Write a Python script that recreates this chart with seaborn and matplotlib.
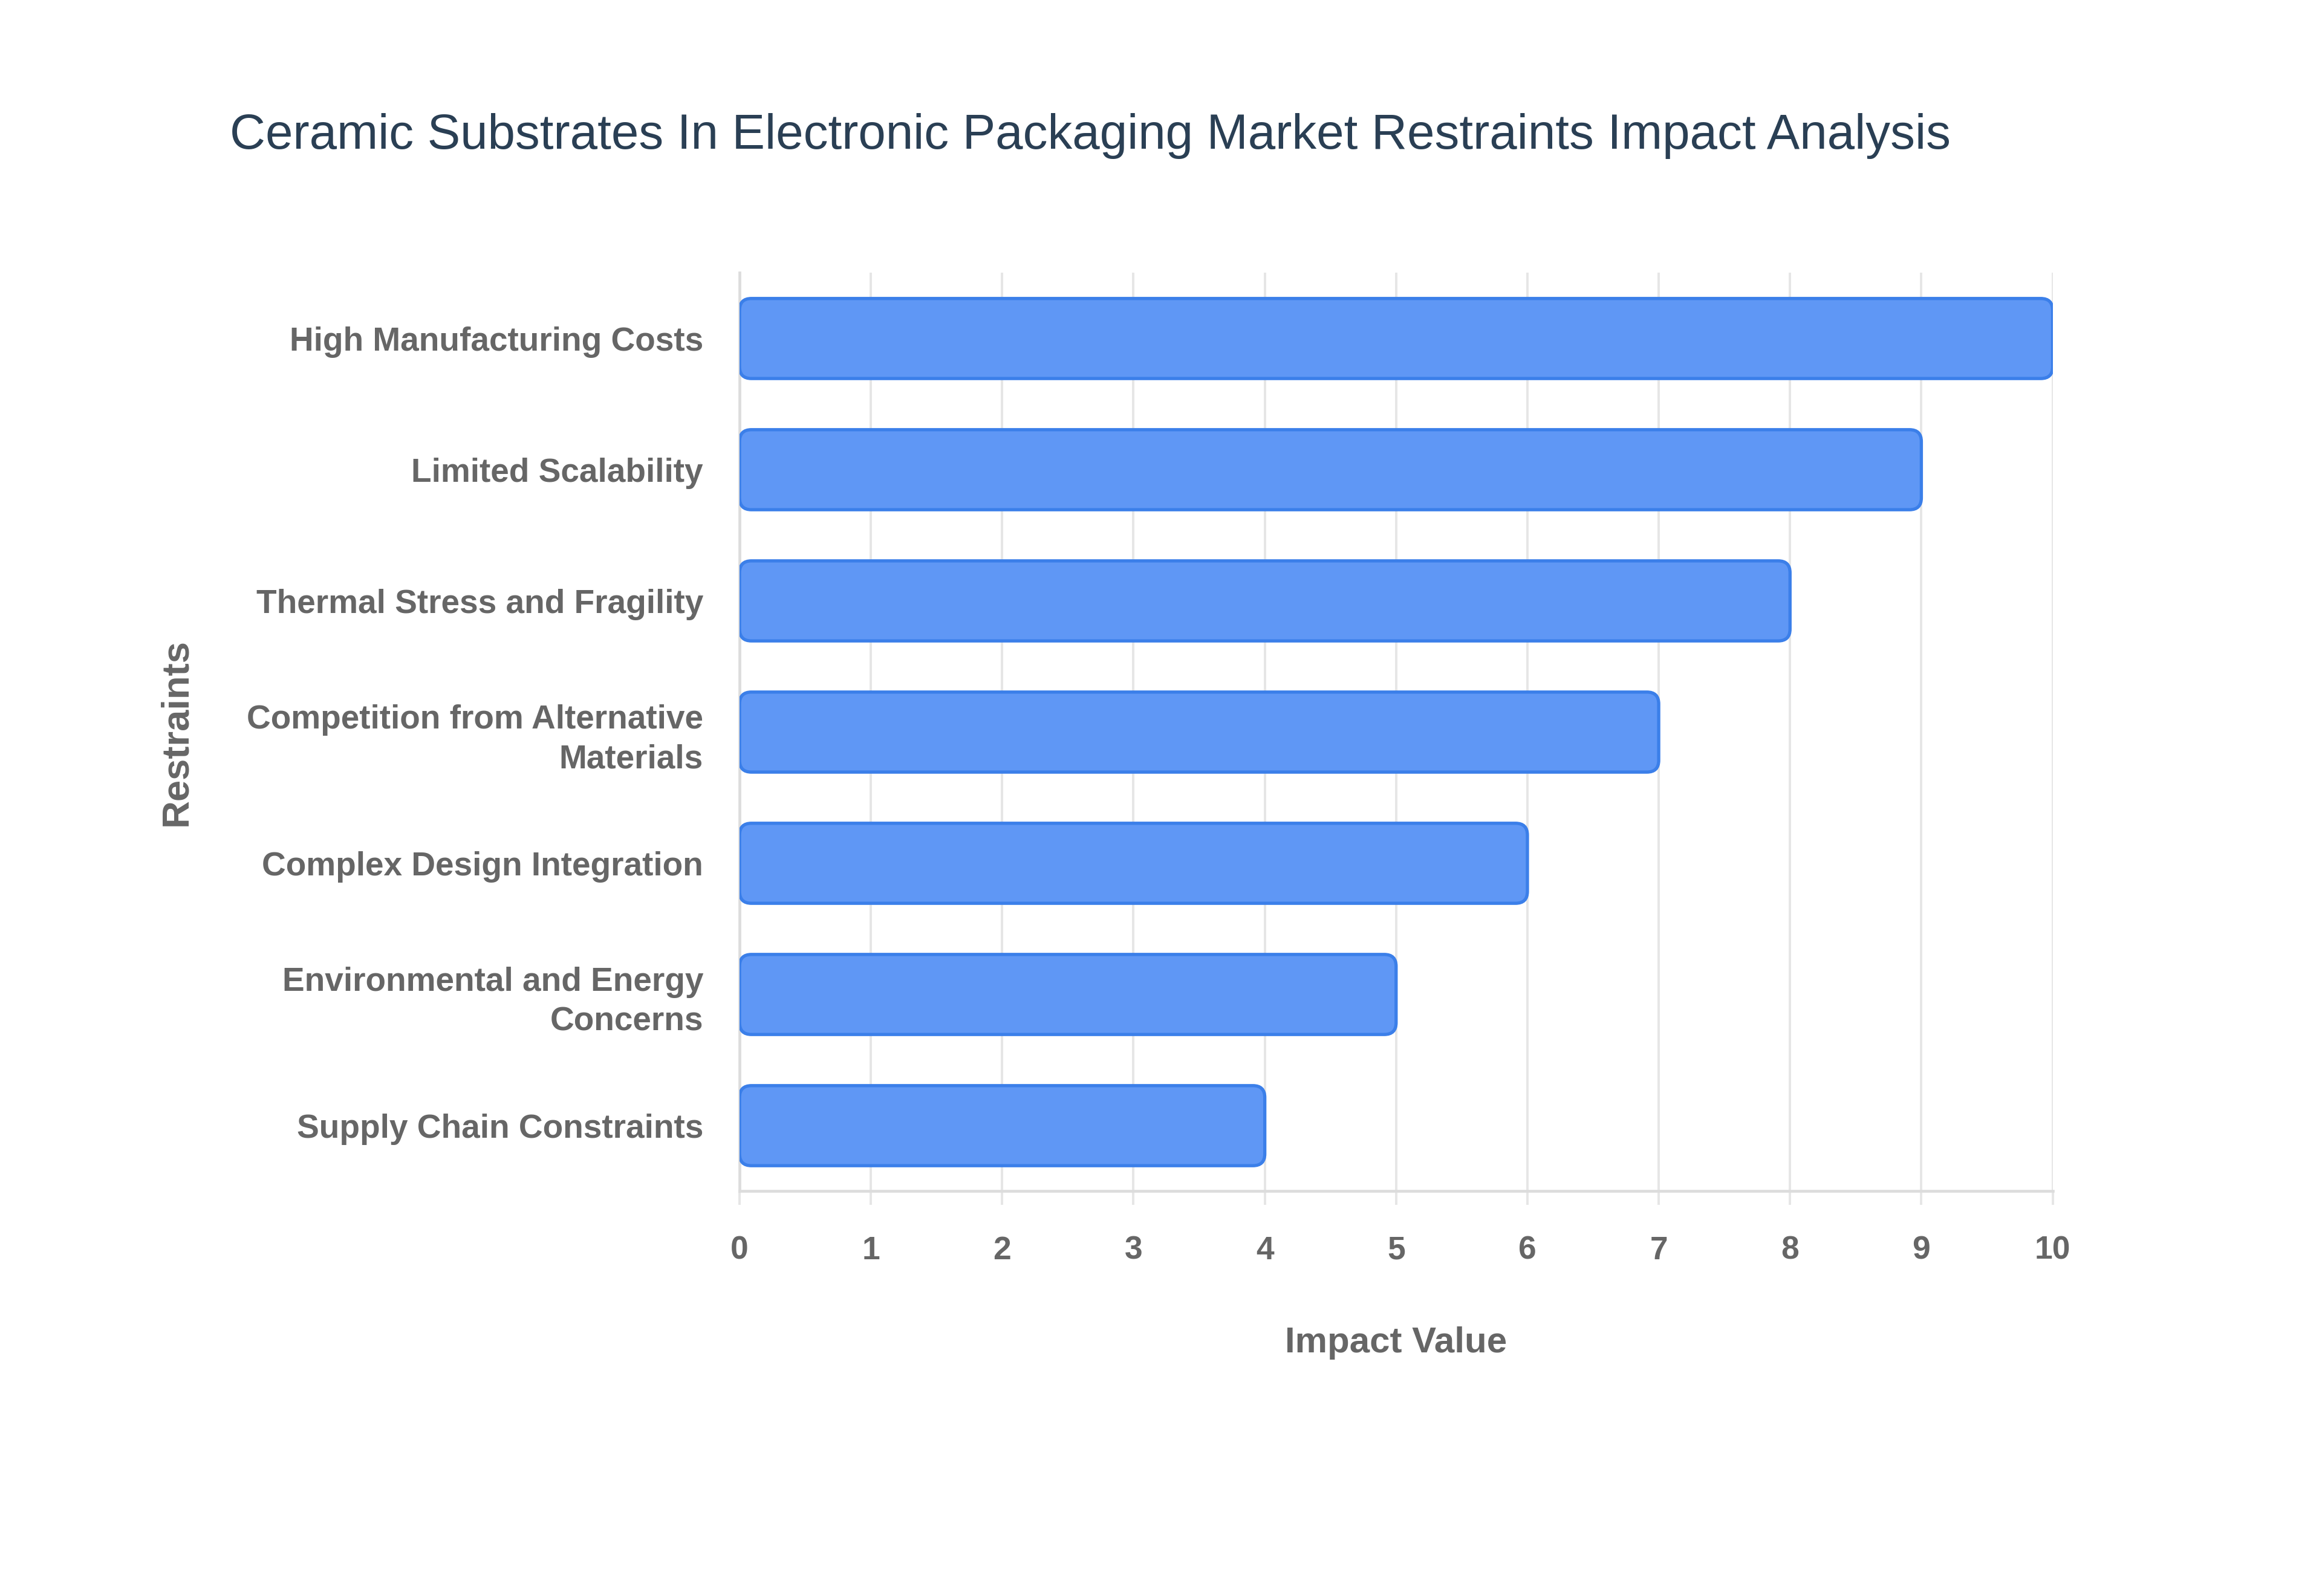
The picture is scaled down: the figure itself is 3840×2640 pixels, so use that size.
import matplotlib
matplotlib.use("Agg")
import matplotlib.pyplot as plt
import seaborn as sns
import pandas as pd
from matplotlib.patches import FancyBboxPatch

restraints = [
    "High Manufacturing Costs",
    "Limited Scalability",
    "Thermal Stress and Fragility",
    "Competition from Alternative\nMaterials",
    "Complex Design Integration",
    "Environmental and Energy\nConcerns",
    "Supply Chain Constraints",
]
impact = [10, 9, 8, 7, 6, 5, 4]
x_ticks = [0, 1, 2, 3, 4, 5, 6, 7, 8, 9, 10]

df = pd.DataFrame({"Restraints": restraints, "Impact Value": impact})

sns.set_theme(style="white")
plt.rcParams["font.family"] = ["Liberation Sans", "DejaVu Sans"]

fig = plt.figure(figsize=(16, 11), dpi=240)
ax = fig.add_axes([0.3185, 0.2536, 0.5655, 0.5754])

sns.barplot(data=df, x="Impact Value", y="Restraints", orient="h",
            color="#5f97f5", width=0.61, ax=ax, zorder=3)

# swap plain bars for slightly rounded ones
for p in list(ax.patches):
    x0, y0 = p.get_x(), p.get_y()
    w, h = p.get_width(), p.get_height()
    rb = FancyBboxPatch((x0, y0), w, h,
                        boxstyle="round,pad=0,rounding_size=0.09",
                        facecolor="#5f97f5", edgecolor="#3b7fe9",
                        linewidth=1.6, zorder=3)
    p.remove()
    ax.add_patch(rb)

ax.set_xlim(0, 10)
ax.set_ylim(len(restraints) - 0.5, -0.5)
ax.set_xticks(x_ticks)
ax.grid(axis="x", color="#e6e6e6", linewidth=1.2, zorder=0)
ax.grid(axis="y", visible=False)

for s in ["top", "right"]:
    ax.spines[s].set_visible(False)
for s in ["left", "bottom"]:
    ax.spines[s].set_color("#dcdcdc")
    ax.spines[s].set_linewidth(1.4)

ax.tick_params(axis="x", length=7, width=1.2, color="#e6e6e6", pad=15,
               labelsize=16, labelcolor="#666666", bottom=True)
ax.tick_params(axis="y", length=0, pad=18, labelsize=16.5, labelcolor="#666666")
for t in ax.get_xticklabels() + ax.get_yticklabels():
    t.set_fontweight("bold")
for t in ax.get_yticklabels():
    t.set_linespacing(1.35)

ax.set_xlabel("Impact Value", fontsize=18, fontweight="bold", color="#666666", labelpad=30)
ax.set_ylabel("Restraints", fontsize=19, fontweight="bold", color="#666666", labelpad=26)

fig.text(0.099, 0.907, "Ceramic Substrates In Electronic Packaging Market Restraints Impact Analysis",
         fontsize=24.5, color="#2a3f54", va="baseline", ha="left")

fig.savefig("out.png", dpi=240, facecolor="white")
